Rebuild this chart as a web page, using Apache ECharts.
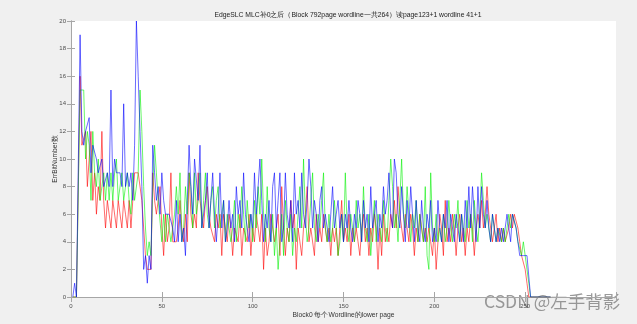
<!DOCTYPE html>
<html><head><meta charset="utf-8">
<script src="https://cdn.jsdelivr.net/npm/echarts@6/dist/echarts.min.js"></script>
<style>html,body{margin:0;padding:0;background:#f0f0f0;}#c{width:637px;height:324px;}</style>
</head><body><div id="c"></div>
<script>
const titleText = 'EdgeSLC MLC补0之后（Block 792page wordline一共264）读page123+1 wordline 41+1';
const xName = 'Block0 每个Wordline的lower page';
const yName = 'ErrBitNumber数';
const xTicks = [0, 50, 100, 150, 200, 250, 300];
const yTicks = [0, 2, 4, 6, 8, 10, 12, 14, 16, 18, 20];
const blue = [
0,1,0,0,19,12,11,12,12,13,
9,11,11,10,9,9,10,8,8,9,
8,15,8,10,9,9,9,8,14,8,
9,8,9,7,11,20,16,12,8,2,
3,1,3,2,11,9,7,8,6,9,
7,6,6,6,6,5,4,7,4,6,
4,5,3,7,11,8,6,10,10,7,
11,5,5,7,9,5,7,9,6,4,
6,9,5,7,4,5,7,5,6,4,
8,6,7,5,9,6,5,4,6,5,
9,6,8,10,7,4,6,5,7,4,
8,9,5,7,9,4,5,9,6,5,
7,4,9,6,7,5,9,6,5,7,
10,8,5,7,6,4,7,8,5,6,
5,4,6,8,5,6,7,5,6,4,
6,5,7,5,4,6,5,7,6,4,
7,5,6,4,8,5,6,7,4,6,
5,8,6,7,9,6,5,10,9,6,
5,8,6,4,7,5,8,6,4,7,
5,4,7,5,4,6,5,7,4,5,
4,7,5,4,6,5,7,4,6,5,
4,6,5,4,6,4,7,5,8,5,
8,6,4,8,5,8,6,5,7,5,
4,6,5,4,5,4,5,4,5,6,
5,4,6,6,5,4,3,3,3,3,
3,3,0,0,0,0,0,0,0,0,
0,0,0,0];
const green = [
0,0,0,0,15,15,15,10,12,11,
7,12,9,8,10,7,8,9,7,9,
7,9,7,9,10,7,7,9,7,8,
9,7,6,9,7,7,9,15,12,8,
5,3,4,3,8,11,9,7,7,4,
6,4,6,5,4,5,6,8,6,9,
4,5,8,6,9,8,5,9,6,7,
9,5,7,9,6,5,7,8,5,7,
8,5,6,7,4,6,5,4,5,7,
4,6,5,8,6,4,7,5,6,4,
7,5,8,6,10,6,4,8,5,4,
6,3,5,2,4,6,3,7,5,4,
6,3,5,4,6,8,5,10,6,4,
5,7,9,5,4,6,5,7,9,5,
4,6,4,5,7,5,3,4,6,4,
9,5,4,6,5,4,7,5,6,4,
8,5,4,6,3,5,7,4,6,5,
4,7,5,4,7,10,8,5,6,4,
7,10,6,5,8,6,4,6,5,7,
4,6,5,4,8,3,2,9,5,4,
6,4,5,4,6,4,5,7,5,4,
6,5,7,4,6,5,4,7,5,6,
4,7,5,4,6,9,7,5,6,5,
4,6,5,4,5,5,4,5,4,5,
6,5,6,6,5,4,4,3,4,3,
2,1,0,0,0,0,0,0,0,0,
0,0,0,0];
const red = [
0,0,0,0,16,11,11,12,8,8,
12,7,9,6,8,7,12,7,5,7,
6,5,7,7,5,7,7,5,7,6,
5,7,5,7,9,9,9,9,7,5,
3,2,2,2,9,7,6,6,8,5,
3,6,4,5,9,4,4,4,5,7,
5,4,6,4,9,6,5,6,5,9,
7,6,5,7,8,6,5,5,4,6,
5,6,3,6,5,4,6,5,3,5,
5,4,6,3,5,5,4,6,3,5,
4,6,5,4,6,2,5,3,4,6,
5,4,5,6,3,8,5,3,5,4,
7,5,6,2,5,4,3,5,6,8,
4,5,5,3,6,4,5,4,6,5,
4,5,3,5,4,5,3,5,7,4,
5,4,6,3,5,4,5,4,3,5,
6,4,5,3,5,4,6,5,2,5,
3,6,4,5,4,6,5,7,5,8,
6,5,4,6,5,4,6,5,3,5,
4,6,5,4,5,4,5,4,3,5,
2,4,6,5,3,7,4,5,4,6,
5,3,5,6,4,5,3,5,4,6,
5,3,5,6,5,7,5,6,8,6,
5,4,5,6,4,5,4,5,4,4,
5,6,5,6,6,5,4,3,3,2,
1,0,0,0,0,0,0,0,0,0,
0,0,0,0];

const toPairs = arr => arr.map((v, i) => [i + 1, v]);
const chart = echarts.init(document.getElementById('c'), null, {renderer: 'canvas'});
const font = 'Liberation Sans, Arial, sans-serif';
const axisCol = '#a6a6a6';
const lblCol = '#4d4d4d';
const baseX = {
  type: 'value', min: xTicks[0], max: xTicks[xTicks.length - 1], interval: 50,
  axisLine: {show: true, lineStyle: {color: axisCol, width: 1}},
  axisTick: {show: true, inside: true, length: 5, lineStyle: {color: axisCol}},
  splitLine: {show: false}
};
const baseY = {
  type: 'value', min: yTicks[0], max: yTicks[yTicks.length - 1], interval: 2,
  axisLine: {show: true, lineStyle: {color: axisCol, width: 1}},
  axisTick: {show: true, inside: true, length: 4, lineStyle: {color: axisCol}},
  splitLine: {show: false}
};
const lineSeries = (name, data, color) => ({
  name, type: 'line', data: toPairs(data), symbol: 'none', animation: false,
  lineStyle: {color, width: 0.9, opacity: 0.65}, itemStyle: {color}
});
chart.setOption({
  backgroundColor: '#f0f0f0',
  animation: false,
  title: {text: titleText, left: 343, top: 7, textAlign: 'center',
    textStyle: {fontFamily: font, fontSize: 6.8, fontWeight: 'normal', color: '#222'}},
  grid: {left: 71, top: 21, width: 545, height: 280, show: true, backgroundColor: '#ffffff', borderWidth: 0},
  xAxis: [
    Object.assign({}, baseX, {position: 'bottom',
      name: xName, nameLocation: 'middle', nameGap: 15, nameMoveOverlap: false,
      nameTextStyle: {fontFamily: font, fontSize: 6.7, color: '#333'},
      axisLabel: {show: true, fontFamily: font, fontSize: 6, color: lblCol, margin: 6,
        formatter: v => (v === xTicks[xTicks.length - 1] ? '' : String(v))}}),
    Object.assign({}, baseX, {position: 'top', axisLabel: {show: false}})
  ],
  yAxis: [
    Object.assign({}, baseY, {position: 'left',
      name: yName, nameLocation: 'middle', nameGap: 12, nameRotate: 90, nameMoveOverlap: false,
      nameTextStyle: {fontFamily: font, fontSize: 6.7, color: '#333'},
      axisLabel: {show: true, fontFamily: font, fontSize: 6, color: lblCol, margin: 5}}),
    Object.assign({}, baseY, {position: 'right', axisLabel: {show: false}})
  ],
  series: [
    lineSeries('red', red, '#ff0000'),
    lineSeries('green', green, '#00f000'),
    lineSeries('blue', blue, '#0000ff')
  ],
  graphic: [{
    type: 'text', left: 484, top: 293, silent: true,
    style: {text: 'CSDN @左手背影', font: '17.5px "Noto Sans CJK SC", sans-serif', fill: 'rgba(120,120,120,0.75)'}
  }]
});
</script></body></html>
